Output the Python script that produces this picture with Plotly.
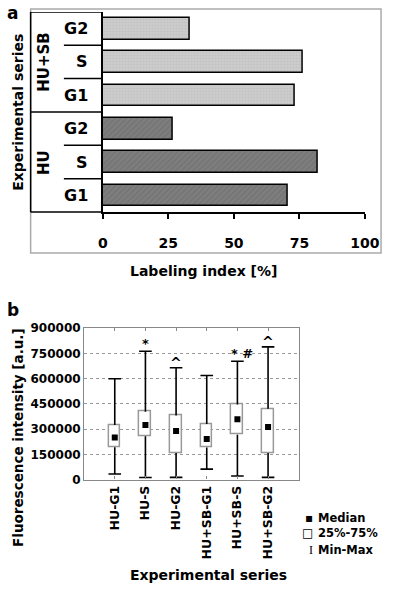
import plotly.graph_objects as go

W, H = 397, 593
FONT = "DejaVu Sans, sans-serif"

# ---------------- data: panel a (labeling index, %) ----------------
groups = ["HU", "HU+SB"]
phases = ["G1", "S", "G2"]
labeling_hu = [70.4, 82.0, 26.7]
labeling_husb = [73.4, 76.2, 33.2]
x_ticks_a = [0, 25, 50, 75, 100]

# ---------------- data: panel b (fluorescence intensity, a.u.) ----------------
box_labels = ["HU-G1", "HU-S", "HU-G2", "HU+SB-G1", "HU+SB-S", "HU+SB-G2"]
mins = [33000, 12000, 13000, 62000, 21000, 13000]
q1s = [192000, 258000, 158000, 190000, 267000, 158000]
medians = [250000, 325000, 289000, 242000, 358000, 313000]
q3s = [325000, 404000, 381000, 331000, 446000, 421000]
maxs = [600000, 763000, 665000, 619000, 704000, 789000]
sig_marks = ["", "*", "^", "", "* #", "^"]
y_ticks_b = [0, 150000, 300000, 450000, 600000, 750000, 900000]


def X(px):
    return px / W


def Y(py):
    return 1 - py / H


def bold(size, color="black"):
    return dict(family=FONT, size=size, color=color, weight=700)


def B(t):
    return "<b>" + t + "</b>"


fig = go.Figure()

# ---- panel a bars ----
ypos_hu = [0, 1, 2]
ypos_husb = [3, 4, 5]
fig.add_trace(go.Bar(
    x=labeling_hu, y=ypos_hu, orientation="h", width=0.65,
    marker=dict(color="#7e7e7e", line=dict(color="black", width=1.5),
                pattern=dict(shape="/", fgcolor="#686868", size=4, solidity=0.35)),
    xaxis="x", yaxis="y", showlegend=False,
))
fig.add_trace(go.Bar(
    x=labeling_husb, y=ypos_husb, orientation="h", width=0.65,
    marker=dict(color="#cccccc", line=dict(color="black", width=1.5),
                pattern=dict(shape=".", fgcolor="#b3b3b3", size=3, solidity=0.3)),
    xaxis="x", yaxis="y", showlegend=False,
))

# ---- panel b boxes ----
pos = list(range(1, len(box_labels) + 1))
fig.add_trace(go.Bar(
    x=pos, y=[b - a for a, b in zip(q1s, q3s)], base=q1s, width=0.38,
    marker=dict(color="white", line=dict(color="#999999", width=1.5)),
    xaxis="x2", yaxis="y2", showlegend=False,
))
wx, wy = [], []
for p, mn, a, b, mx in zip(pos, mins, q1s, q3s, maxs):
    wx += [p, p, None, p, p, None]
    wy += [mn, a, None, b, mx, None]
fig.add_trace(go.Scatter(
    x=wx, y=wy, mode="lines", line=dict(color="black", width=1.6),
    xaxis="x2", yaxis="y2", showlegend=False, hoverinfo="skip",
))
fig.add_trace(go.Scatter(
    x=pos + pos, y=mins + maxs, mode="markers",
    marker=dict(symbol="line-ew", size=9, line=dict(color="black", width=1.6)),
    xaxis="x2", yaxis="y2", showlegend=False,
))
fig.add_trace(go.Scatter(
    x=pos, y=medians, mode="markers",
    marker=dict(symbol="square", size=6, color="black"),
    xaxis="x2", yaxis="y2", showlegend=False,
))

ann = []
shapes = []

# significance marks
for p, mx, s in zip(pos, maxs, sig_marks):
    if s:
        ann.append(dict(x=p, y=mx, xref="x2", yref="y2", text=B(s), showarrow=False,
                        xanchor="center", yanchor="bottom", yshift=-5 if s == "^" else -2,
                        xshift=5 if len(s) > 1 else 0, font=bold(14 if s == "^" else 13)))

# panel a table labels
for i, g in enumerate(groups):
    idx = [i * 3 + k for k in range(3)]
    for k, ph in enumerate(phases):
        ann.append(dict(x=X(89), y=idx[k], xref="paper", yref="y", text=B(ph), showarrow=False,
                        xanchor="right", yanchor="middle", font=bold(16)))
    ann.append(dict(x=X(41), y=sum(idx) / 3, xref="paper", yref="y", text=B(g), showarrow=False,
                    textangle=-90, xanchor="center", yanchor="middle", font=bold(15)))
    # separators
    for k in range(3):
        yb = idx[k] + 0.5
        x0 = X(62) if k < 2 else X(27)
        shapes.append(dict(type="line", xref="paper", yref="y", x0=x0, x1=X(103),
                           y0=yb, y1=yb, line=dict(color="black", width=1.5)))

# panel a frame and table lines
shapes.append(dict(type="rect", xref="paper", yref="paper", x0=X(27), x1=X(396), y0=Y(252), y1=Y(2),
                   line=dict(color="#aaaaaa", width=1.5), layer="below"))
shapes.append(dict(type="line", xref="paper", yref="paper", x0=X(27), x1=X(27), y0=Y(210), y1=Y(5),
                   line=dict(color="black", width=1.5)))
shapes.append(dict(type="line", xref="paper", yref="paper", x0=X(27), x1=X(103), y0=Y(210), y1=Y(210),
                   line=dict(color="black", width=1.5)))

# titles and panel letters
ann += [
    dict(x=X(14), y=Y(108), xref="paper", yref="paper", text=B("Experimental series"), textangle=-90,
         showarrow=False, xanchor="center", yanchor="middle", font=bold(14)),
    dict(x=X(209), y=Y(270), xref="paper", yref="paper", text=B("Labeling index [%]"),
         showarrow=False, xanchor="center", yanchor="middle", font=bold(14)),
    dict(x=X(13), y=Y(441), xref="paper", yref="paper", text=B("Fluorescence intensity [a.u.]"),
         textangle=-90, showarrow=False, xanchor="center", yanchor="middle", font=bold(13.5)),
    dict(x=X(214), y=Y(582), xref="paper", yref="paper", text=B("Experimental series"),
         showarrow=False, xanchor="center", yanchor="middle", font=bold(14)),
    dict(x=X(0), y=Y(0), xref="paper", yref="paper", text=B("a"), showarrow=False,
         xanchor="left", yanchor="top", yshift=6, font=bold(17)),
    dict(x=X(0), y=Y(298), xref="paper", yref="paper", text=B("b"), showarrow=False,
         xanchor="left", yanchor="top", font=bold(17)),
]

# legend for panel b
leg = [("▪", "Median", 523), ("□", "25%-75%", 539), ("I", "Min-Max", 556)]
for sym, txt, yy in leg:
    ann.append(dict(x=X(326), y=Y(yy), xref="paper", yref="paper", text=sym, showarrow=False,
                    xanchor="right", yanchor="middle",
                    font=dict(family="Liberation Serif, serif" if sym == "I" else FONT, size=12, color="black")))
    ann.append(dict(x=X(327), y=Y(yy), xref="paper", yref="paper", text=B(txt), showarrow=False,
                    xanchor="left", yanchor="middle", font=bold(11.5)))

fig.update_layout(
    width=W, height=H, margin=dict(l=0, r=0, t=0, b=0),
    paper_bgcolor="white", plot_bgcolor="white",
    barmode="overlay", bargap=0,
    annotations=ann, shapes=shapes,
    xaxis=dict(domain=[X(103), X(379)], range=[0, 100], tickvals=x_ticks_a,
               ticktext=[B(str(v)) for v in x_ticks_a],
               showline=True, linecolor="black", linewidth=1.5, ticks="outside", ticklen=5,
               tickcolor="black", tickwidth=1.5, showgrid=False, zeroline=False,
               tickfont=bold(14), ticklabelstandoff=12, anchor="y", fixedrange=True),
    yaxis=dict(domain=[Y(210), Y(5)], range=[-0.5, 5.5], showticklabels=False, ticks="",
               showline=True, linecolor="black", linewidth=1.5, showgrid=False, zeroline=False,
               anchor="x"),
    xaxis2=dict(domain=[X(83.3), X(309.3)], range=[0, 7], tickvals=pos,
                ticktext=[B(t) for t in box_labels],
                tickangle=-90, tickfont=bold(12.5), showline=True, mirror="ticks", linecolor="#888888",
                linewidth=1.2, ticks="inside", ticklen=3, tickcolor="#888888", showgrid=False,
                zeroline=False, anchor="y2"),
    yaxis2=dict(domain=[Y(484), Y(329)], range=[0, 900000], tickvals=y_ticks_b,
                ticktext=[B(str(v)) for v in y_ticks_b],
                tickfont=bold(12), showline=True, mirror=True, linecolor="#888888", linewidth=1.2,
                showgrid=True, gridcolor="#999999", griddash="dot", gridwidth=1, zeroline=False,
                ticks="", anchor="x2"),
)

fig.write_html("out.html", config={"displayModeBar": False},
               post_script="document.body.style.margin='0';")
